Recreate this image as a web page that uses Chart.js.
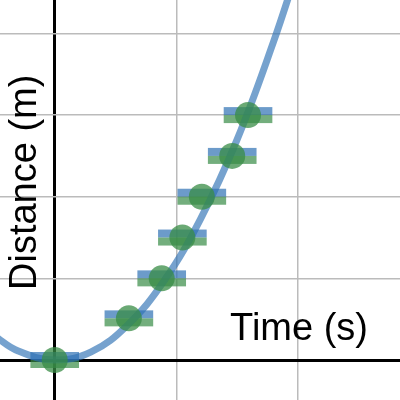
<!DOCTYPE html>
<html>
<head>
<script src="https://cdn.jsdelivr.net/npm/chart.js@4"></script>
<style>body{margin:0}#wrap{width:400px;height:400px}</style>
</head>
<body>
<div id="wrap"><canvas id="grafica"></canvas></div>
<script>
// measured points (time, distance)
const tiempo = [0, 0.61, 0.88, 1.05, 1.21, 1.46, 1.59];
const distancia = [0, 0.51, 1.0, 1.5, 2.0, 2.5, 3.0];
const errorX = 0.2;
// fitted curve
const curvaX = [-0.5, -0.3, 0, 0.3, 0.6, 0.9, 1.2, 1.5, 1.8, 2.0];
const curvaY = [0.3, 0.11, 0, 0.1, 0.43, 0.97, 1.73, 2.7, 3.9, 4.8];
const marcasX = [0, 1, 2];
const marcasY = [0, 1, 2, 3, 4];

const barras = {
  id: "barras",
  beforeDatasetsDraw(chart) {
    const c = chart.ctx, sx = chart.scales.x, sy = chart.scales.y;
    c.save();
    tiempo.forEach((t, i) => {
      const x1 = sx.getPixelForValue(t - errorX), x2 = sx.getPixelForValue(t + errorX);
      const y = sy.getPixelForValue(distancia[i]);
      c.fillStyle = "rgba(45,112,179,0.7)";
      c.fillRect(x1, y - 8, x2 - x1, 8);
      c.fillStyle = "rgba(56,140,70,0.7)";
      c.fillRect(x1, y, x2 - x1, 8);
    });
    c.restore();
  },
  afterDraw(chart) {
    const c = chart.ctx;
    c.save();
    c.fillStyle = "#000";
    c.font = "38px 'Liberation Sans', Arial";
    c.textAlign = "right";
    c.textBaseline = "alphabetic";
    c.fillText("Time (s)", 368, 340);
    c.translate(36, 290);
    c.rotate(-Math.PI / 2);
    c.textAlign = "left";
    c.fillText("Distance (m)", 0, 0);
    c.restore();
  }
};

const eje = ctx => ctx.tick.value === 0 ? "#000" : "#bbbbbb";
const ancho = ctx => ctx.tick.value === 0 ? 3 : 1.5;

new Chart(document.getElementById("grafica"), {
  type: "scatter",
  data: {
    datasets: [
      {
        data: tiempo.map((t, i) => ({x: t, y: distancia[i]})),
        backgroundColor: "rgba(56,140,70,0.75)",
        borderWidth: 0,
        pointRadius: 13
      },
      {
        type: "line",
        data: curvaX.map((t, i) => ({x: t, y: curvaY[i]})),
        borderColor: "rgba(45,112,179,0.65)",
        borderWidth: 7,
        pointRadius: 0,
        tension: 0.4,
        order: 1
      }
    ]
  },
  options: {
    animation: false,
    responsive: true,
    maintainAspectRatio: false,
    layout: {padding: 0, autoPadding: false},
    plugins: {legend: {display: false}, tooltip: {enabled: false}},
    scales: {
      x: {min: -0.45, max: 2.84, ticks: {display: false}, border: {display: false},
          afterBuildTicks: s => { s.ticks = marcasX.map(v => ({value: v})); },
          grid: {color: eje, lineWidth: ancho, drawTicks: false}},
      y: {min: -0.49, max: 4.41, ticks: {display: false}, border: {display: false},
          afterBuildTicks: s => { s.ticks = marcasY.map(v => ({value: v})); },
          grid: {color: eje, lineWidth: ancho, drawTicks: false}}
    }
  },
  plugins: [barras]
});
</script>
</body>
</html>
